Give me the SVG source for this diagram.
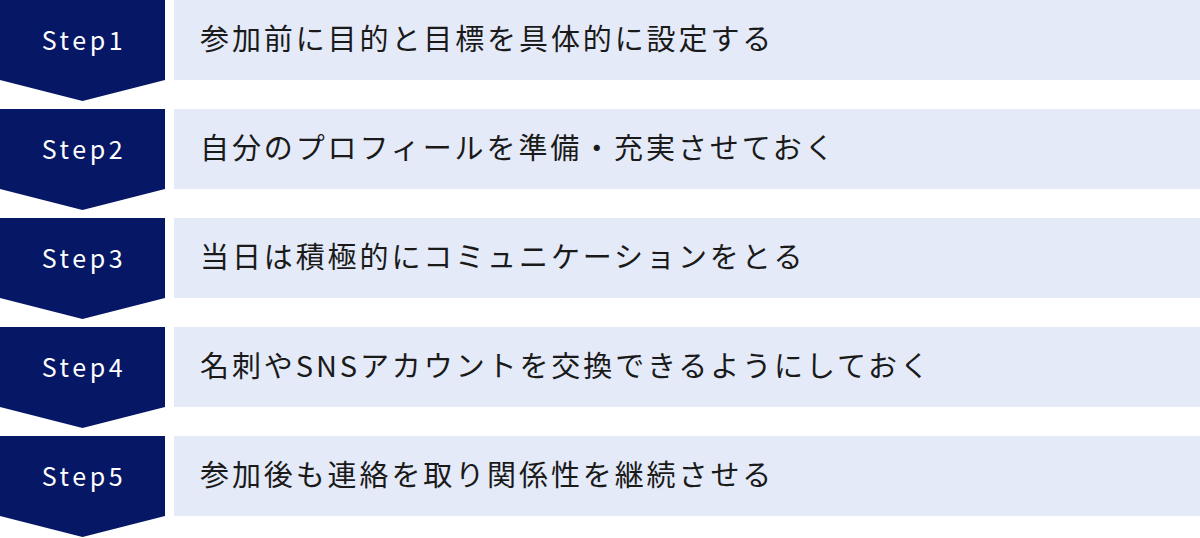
<svg xmlns="http://www.w3.org/2000/svg" width="1200" height="538" viewBox="0 0 1200 538">
<style>
.chev{fill:#061865}
.box{fill:#e5eaf8}
.st{font-family:"Noto Sans CJK JP","Noto Sans",sans-serif;font-size:25px;fill:#ffffff;letter-spacing:3.6px}
.tx{font-family:"Noto Sans CJK JP","Noto Sans",sans-serif;font-size:29px;fill:#1a1a1a;letter-spacing:2.9px}
</style>
<g id="connectors"></g>
<g id="step1">
<path class="chev" d="M0 0H165V80L82.5 101L0 80Z"/>
<rect class="box" x="174" y="0" width="1026" height="80"/>
<text class="st" x="84" y="50" text-anchor="middle">Step1</text>
<text class="tx" x="200" y="50">参加前に目的と目標を具体的に設定する</text>
</g>
<g id="step2">
<path class="chev" d="M0 109H165V189L82.5 210L0 189Z"/>
<rect class="box" x="174" y="109" width="1026" height="80"/>
<text class="st" x="84" y="159" text-anchor="middle">Step2</text>
<text class="tx" x="200" y="159">自分のプロフィールを準備・充実させておく</text>
</g>
<g id="step3">
<path class="chev" d="M0 218H165V298L82.5 319L0 298Z"/>
<rect class="box" x="174" y="218" width="1026" height="80"/>
<text class="st" x="84" y="268" text-anchor="middle">Step3</text>
<text class="tx" x="200" y="268">当日は積極的にコミュニケーションをとる</text>
</g>
<g id="step4">
<path class="chev" d="M0 327H165V407L82.5 428L0 407Z"/>
<rect class="box" x="174" y="327" width="1026" height="80"/>
<text class="st" x="84" y="377" text-anchor="middle">Step4</text>
<text class="tx" x="200" y="377">名刺やSNSアカウントを交換できるようにしておく</text>
</g>
<g id="step5">
<path class="chev" d="M0 436H165V516L82.5 537L0 516Z"/>
<rect class="box" x="174" y="436" width="1026" height="80"/>
<text class="st" x="84" y="486" text-anchor="middle">Step5</text>
<text class="tx" x="200" y="486">参加後も連絡を取り関係性を継続させる</text>
</g>
</svg>
